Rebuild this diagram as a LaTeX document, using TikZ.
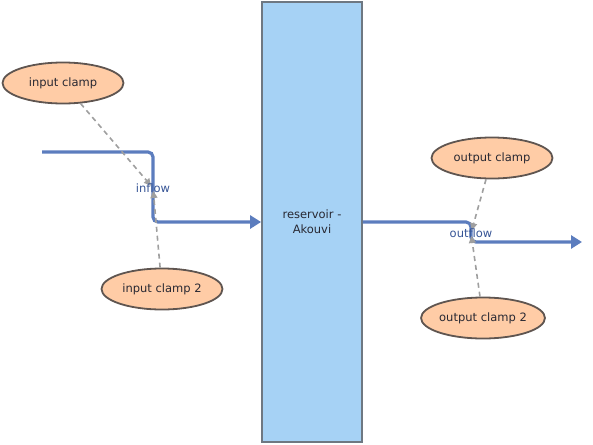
\documentclass[tikz,border=0pt]{standalone}
\usepackage{fontspec}
\setmainfont{DejaVu Sans}
\usetikzlibrary{arrows.meta}
\usetikzlibrary{positioning}
\usetikzlibrary{shapes.geometric}
\definecolor{flowblue}{RGB}{92,125,190}
\definecolor{labelblue}{RGB}{55,85,150}
\definecolor{clampfill}{RGB}{255,204,166}
\definecolor{clampdraw}{RGB}{95,85,80}
\definecolor{resfill}{RGB}{166,210,245}
\definecolor{resdraw}{RGB}{110,120,130}
\definecolor{textdark}{RGB}{40,40,50}
\tikzset {
  % stock node
  stock/.style = {
    draw = resdraw,
    fill = resfill,
    line width = 1.8pt,
    rectangle,
    minimum width = 100pt,
    minimum height = 440pt,
    align = center,
    text = textdark,
    font = \fontsize{11.5}{15}\selectfont
  },
  % auxiliary variable
  clamp/.style = {
    draw = clampdraw,
    fill = clampfill,
    line width = 1.8pt,
    ellipse,
    minimum width = 121pt,
    minimum height = 41pt,
    inner sep = 0,
    text = textdark,
    font = \fontsize{11.5}{14}\selectfont
  },
  % flow valve label
  valve/.style = {
    text = labelblue,
    inner sep = 1pt,
    font = \fontsize{11.5}{14}\selectfont
  },
  % flow path
  flow/.style = {
    draw = flowblue,
    line width = 3.2pt,
    rounded corners = 5pt,
    -{Triangle[length=11pt,width=13pt]}
  },
  % link path
  link/.style = {
    draw = gray!75,
    line width = 1.6pt,
    dash pattern = on 5pt off 4pt,
    shorten > = 3pt,
    -{Triangle[length=7pt,width=7pt]}
  }
}
\begin{document}
\begin{tikzpicture}[x=1pt,y=-1pt]
    \useasboundingbox (0,0) rectangle (593,444);
    \node[stock] (reservoir) at (312,222) {reservoir -\\Akouvi};
    \node[clamp] (in-clamp) at (63,83) {input clamp};
    \node[clamp] (in-clamp2) at (162,289) {input clamp 2};
    \node[clamp] (out-clamp) at (492,158) {output clamp};
    \node[clamp] (out-clamp2) at (483,318) {output clamp 2};
    \coordinate (in-src) at (42,152);
    \coordinate (out-sink) at (582,242);
    \coordinate (in-valve) at (153,188);
    \coordinate (out-valve) at (471,233);

    \draw[flow] (in-src) -| (in-valve) |- (reservoir.west);
    \draw[flow] (reservoir.east) -| (out-valve) |- (out-sink);

    \draw[link] (in-clamp) -- (in-valve);
    \draw[link] (in-clamp2) -- (in-valve);
    \draw[link] (out-clamp) -- (out-valve);
    \draw[link] (out-clamp2) -- (out-valve);

    \node[valve] (inflow) at (in-valve) {inflow};
    \node[valve] (outflow) at (out-valve) {outflow};
\end{tikzpicture}
\end{document}
